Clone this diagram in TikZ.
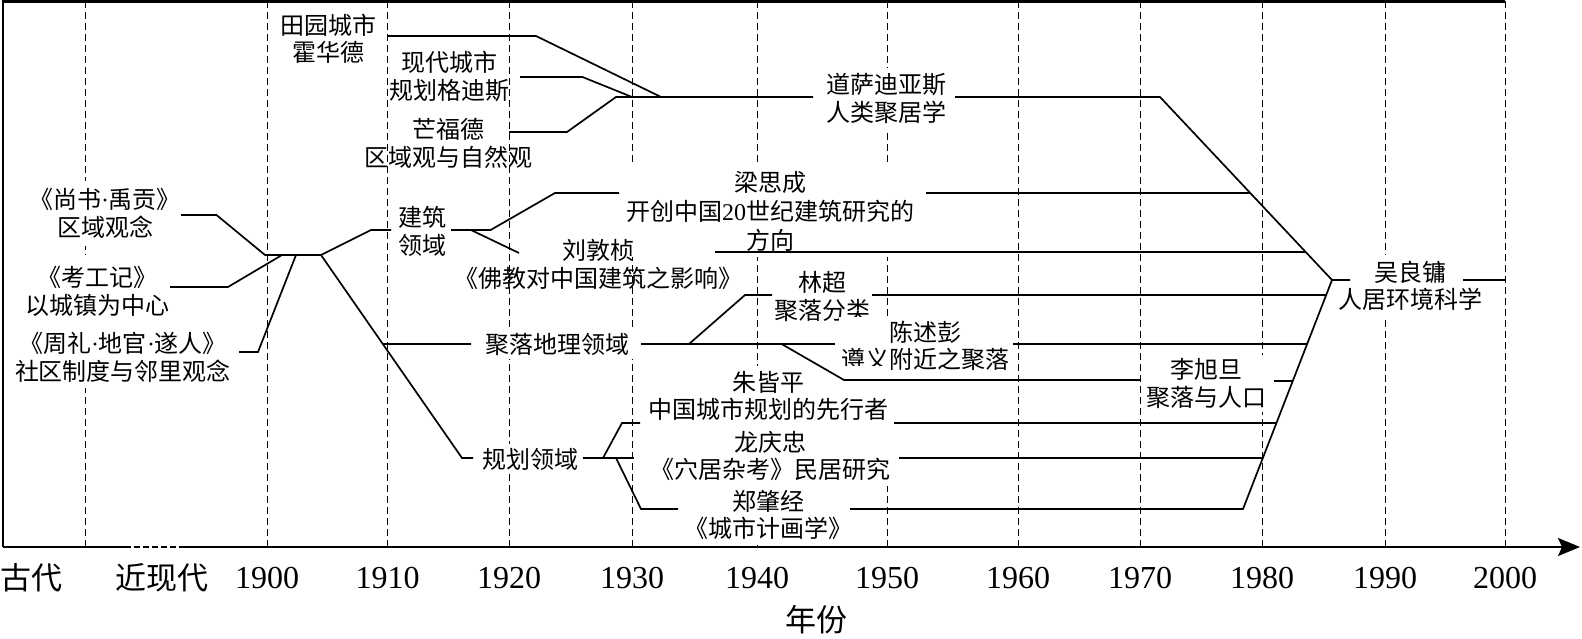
\documentclass[tikz,border=0pt]{standalone}
\usepackage{fontspec}
\setmainfont{Liberation Serif}
\newfontfamily\cjkf[Script=CJK,Language=Chinese Simplified]{Noto Sans CJK SC}
\usetikzlibrary{arrows.meta,calc}
\newcommand{\mdt}{{\rmfamily\fontsize{24}{27.5}\selectfont\textperiodcentered}}
\begin{document}
\begin{tikzpicture}[x=1pt,y=-1pt,
  lab/.style={font=\cjkf\fontsize{24}{27.5}\selectfont, align=center, inner sep=2pt},
  msk/.style={fill=white},
  conn/.style={line width=1.7pt},
  gridline/.style={line width=0.9pt, dash pattern=on 7pt off 4pt},
  axl/.style={font=\fontsize{32}{36}\selectfont, inner sep=1pt},
  axc/.style={font=\cjkf\fontsize{31}{36}\selectfont, inner sep=1pt},
  axisline/.style={line width=2.2pt}
]
\useasboundingbox (0,0) rectangle (1582,639);

% dashed year lines
\foreach \x in {85,267,387.5,509,632,757,887,1018,1140,1262,1385,1505}
  \draw[gridline] (\x,1) -- (\x,547);

% axis labels
\node[axc] (gudai) at (31,578) {古代};
\node[axc] (jinxiandai) at (162,578) {近现代};
\foreach \x/\t in {267/1900,387.5/1910,509/1920,632/1930,757/1940,887/1950,1018/1960,1140/1970,1262/1980,1385/1990,1505/2000}
  \node[axl] (y\t) at (\x,578) {\t};
\node[axc] (nianfen) at (816,620) {年份};

% text nodes
\node[lab,msk,inner ysep=8pt] (shangshu) at (105,213.5) {《尚书\mdt 禹贡》\\区域观念};
\node[lab,msk,inner ysep=12pt] (kaogong) at (97,291.5) {《考工记》\\以城镇为中心};
\node[lab,msk,inner ysep=6pt] (zhouli) at (123,357.5) {《周礼\mdt 地官\mdt 遂人》\\社区制度与邻里观念};
\node[lab] (tianyuan) at (328,39) {田园城市\\霍华德};
\node[lab,inner sep=0pt] (xiandai) at (449,76.5) {现代城市\\规划格迪斯};
\node[lab,inner sep=0pt] (mangfude) at (448,143.5) {芒福德\\区域观与自然观};
\node[lab,msk,inner xsep=4pt,inner ysep=6pt] (dasa) at (886,98.5) {道萨迪亚斯\\人类聚居学};
\node[lab] (jianzhu) at (422,231.5) {建筑\\领域};
\node[lab,msk,inner xsep=6pt,inner ysep=6pt,font=\cjkf\fontsize{24}{29}\selectfont] (liang) at (770,211) {梁思成\\开创中国{\rmfamily 20}世纪建筑研究的\\方向};
\node[lab] (liu) at (598,264.5) {刘敦桢\\《佛教对中国建筑之影响》};
\node[lab,msk,inner xsep=4pt,inner ysep=4pt] (juluo) at (557,344) {聚落地理领域};
\node[lab,msk,inner ysep=4pt] (guihua) at (530,459) {规划领域};
\node[lab,msk] (linchao) at (822,296.5) {林超\\聚落分类};
\node[lab,msk,inner xsep=2pt,inner ysep=4pt] (chen) at (925,346) {陈述彭\\遵义附近之聚落};
\node[lab,msk,inner xsep=1pt,inner ysep=4pt] (lixu) at (1206,383.5) {李旭旦\\聚落与人口};
\node[lab,msk,inner ysep=5pt] (zhu) at (768,396) {朱皆平\\中国城市规划的先行者};
\node[lab,msk,inner ysep=5pt] (long) at (770,456) {龙庆忠\\《穴居杂考》民居研究};
\node[lab,msk,inner ysep=5pt] (zheng) at (768,515) {郑肇经\\《城市计画学》};
\node[lab,msk,inner xsep=4pt,inner ysep=6pt] (wu) at (1410,286) {吴良镛\\人居环境科学};

% frame and axis
\coordinate (fr1) at (1505,1.5);
\coordinate (fr2) at (3,1.5);
\coordinate (o) at (3,547);
\coordinate (ax1) at (125,547);
\coordinate (ax2) at (185,547);
\coordinate (axend) at (1580,547);
\draw[line width=2.6pt] (fr1) -- (fr2) -- (o);
\draw[axisline] (o) -- (ax1);
\draw[line width=1.4pt, dash pattern=on 6pt off 3pt] (ax1) -- (ax2);
\draw[axisline,-{Stealth[length=22pt,width=18pt,inset=4pt]}] (ax2) -- (axend);

% coordinates
\coordinate (ss1) at (181,215);  \coordinate (ss2) at (216.5,215); \coordinate (ja) at (265,255);
\coordinate (kg1) at (170,287);  \coordinate (kg2) at (228,287);   \coordinate (jb) at (282,255);
\coordinate (zl1) at (239,352);  \coordinate (zl2) at (258,352);   \coordinate (jc) at (296,255);
\coordinate (jd) at (321,255);
\coordinate (jz1) at (371,230);  \coordinate (jz2) at (391,230);
\coordinate (gh1) at (462,458);  \coordinate (gh2) at (473,458);
\coordinate (jl1) at ($(jd)!0.4384!(gh1)$); \coordinate (jl2) at (471,344);
\coordinate (jr1) at (451,230);  \coordinate (jr2) at (490.6,230); \coordinate (jr3) at (555,193); \coordinate (jr4) at (619,193);
\coordinate (jr5) at (471,230);  \coordinate (jr6) at (519,253);
\coordinate (ty1) at (387.5,36); \coordinate (ty2) at (536,36);    \coordinate (ta) at (661,97);
\coordinate (xd1) at (520,77);   \coordinate (xd2) at (582.5,77);  \coordinate (tb) at (632,97);
\coordinate (mf1) at (509,132);  \coordinate (mf2) at (567,132);   \coordinate (tc) at (616,97);
\coordinate (ds1) at (813,97);   \coordinate (ds2) at (955,97);    \coordinate (ds3) at (1160,97);
\coordinate (wj) at (1332,280);  \coordinate (wl) at (1350,280);
\coordinate (wr1) at (1463,280); \coordinate (wr2) at (1505,280);
\coordinate (zz) at (1243,509);
\coordinate (ea) at ($(ds3)!96/183!(wj)$);
\coordinate (eb) at ($(ds3)!155/183!(wj)$);
\coordinate (ec) at ($(wj)!0.0655!(zz)$);
\coordinate (ed) at ($(wj)!0.2795!(zz)$);
\coordinate (ee) at ($(wj)!0.4410!(zz)$);
\coordinate (ef) at ($(wj)!0.6245!(zz)$);
\coordinate (eg) at ($(wj)!0.7773!(zz)$);
\coordinate (lsc1) at (926,193); \coordinate (ldz1) at (715,252);
\coordinate (ly1) at (641,344);  \coordinate (cs1) at (835,344);   \coordinate (cs2) at (1013,344);
\coordinate (lc1) at (689,344);  \coordinate (lc2) at (745,295);   \coordinate (lc3) at (772,295); \coordinate (lcr) at (872,295);
\coordinate (cb1) at (781.6,344); \coordinate (cb2) at (844,380);  \coordinate (cb3) at (1140,380);
\coordinate (lx1) at (1274,381);
\coordinate (gr1) at (582.5,458); \coordinate (gr2) at (634,458);
\coordinate (gu1) at (603,458);  \coordinate (gu2) at (622,423);   \coordinate (gu3) at (640,423);
\coordinate (gd1) at (616,458);  \coordinate (gd2) at (641,509);   \coordinate (gd3) at (678,509);
\coordinate (zhr) at (894,423);  \coordinate (lqr) at (899,458);   \coordinate (zj2) at (850,509);

% connectors
\draw[conn] (ss1) -- (ss2) -- (ja) -- (jd);
\draw[conn] (kg1) -- (kg2) -- (jb);
\draw[conn] (zl1) -- (zl2) -- (jc);
\draw[conn] (jd) -- (jz1) -- (jz2);
\draw[conn] (jd) -- (gh1) -- (gh2);
\draw[conn] (jl1) -- (jl2);
\draw[conn] (jr1) -- (jr2) -- (jr3) -- (jr4);
\draw[conn] (jr5) -- (jr6);
\draw[conn] (ty1) -- (ty2) -- (ta);
\draw[conn] (xd1) -- (xd2) -- (tb);
\draw[conn] (mf1) -- (mf2) -- (tc) -- (ds1);
\draw[conn] (ds2) -- (ds3) -- (wj) -- (wl);
\draw[conn] (wr1) -- (wr2);
\draw[conn] (wj) -- (zz) -- (zj2);
\draw[conn] (lsc1) -- (ea);
\draw[conn] (ldz1) -- (eb);
\draw[conn] (ly1) -- (cs1);
\draw[conn] (cs2) -- (ed);
\draw[conn] (lc1) -- (lc2) -- (lc3);
\draw[conn] (lcr) -- (ec);
\draw[conn] (cb1) -- (cb2) -- (cb3);
\draw[conn] (lx1) -- (ee);
\draw[conn] (gr1) -- (gr2);
\draw[conn] (gu1) -- (gu2) -- (gu3);
\draw[conn] (gd1) -- (gd2) -- (gd3);
\draw[conn] (zhr) -- (ef);
\draw[conn] (lqr) -- (eg);
\end{tikzpicture}
\end{document}
